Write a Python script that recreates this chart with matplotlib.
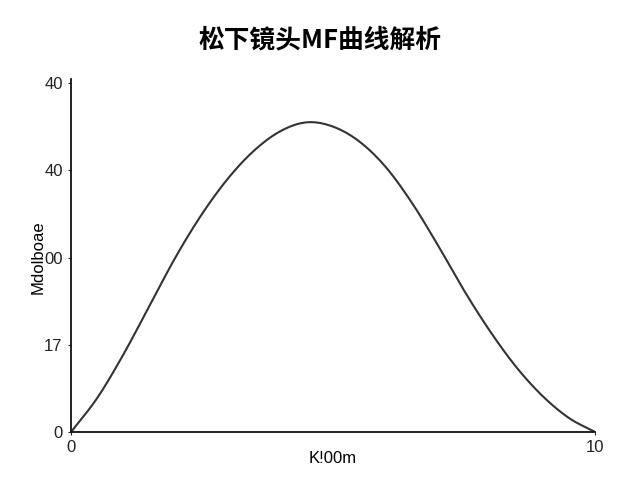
import matplotlib
matplotlib.use("Agg")
import matplotlib.pyplot as plt
import numpy as np

plt.rcParams['font.family'] = ['Liberation Sans', 'Noto Sans CJK SC', 'DejaVu Sans']

# curve
x_vals = [0, 0.5, 1.0, 1.5, 2.0, 2.5, 3.0, 3.5, 4.0, 4.5, 5.0, 5.5, 6.0,
          6.5, 7.0, 7.5, 8.0, 8.5, 9.0, 9.5, 10]
y_vals = [0, 3.9, 8.9, 14.5, 20.1, 25.0, 29.1, 32.3, 34.5, 35.5, 35.0, 33.3, 30.4,
          26.3, 21.4, 16.2, 11.5, 7.4, 4.1, 1.6, 0]

y_ticks = [0, 10, 20, 30, 40]
y_tick_labels = ["0", "17", "00", "40", "40"]
x_ticks = [0, 10]
x_tick_labels = ["0", "10"]

title = "松下镜头MF曲线解析"
x_label = "K!00m"
y_label = "Mdolboae"


def smooth(xs, ys, steps=20):
    """Catmull-Rom through the read points so the line looks like the picture"""
    xs = np.asarray(xs, float)
    ys = np.asarray(ys, float)
    px = np.concatenate([[2 * xs[0] - xs[1]], xs, [2 * xs[-1] - xs[-2]]])
    py = np.concatenate([[2 * ys[0] - ys[1]], ys, [2 * ys[-1] - ys[-2]]])
    out_x, out_y = [], []
    t = np.linspace(0, 1, steps, endpoint=False)
    for i in range(1, len(px) - 2):
        for arr, out in ((px, out_x), (py, out_y)):
            p0, p1, p2, p3 = arr[i - 1], arr[i], arr[i + 1], arr[i + 2]
            out.extend(0.5 * ((2 * p1) + (-p0 + p2) * t
                              + (2 * p0 - 5 * p1 + 4 * p2 - p3) * t ** 2
                              + (-p0 + 3 * p1 - 3 * p2 + p3) * t ** 3))
    out_x.append(xs[-1])
    out_y.append(ys[-1])
    return out_x, out_y


fig = plt.figure(figsize=(6.4, 4.8), dpi=100)
ax = fig.add_axes([0.111, 0.1, 0.819, 0.727])

sx, sy = smooth(x_vals, y_vals)
ax.plot(sx, sy, color="#333333", linewidth=1.5)

ax.set_xlim(0, 10)
ax.set_ylim(0, 40)
ax.set_yticks(y_ticks)
ax.set_yticklabels(y_tick_labels)
ax.set_xticks(x_ticks)
ax.set_xticklabels(x_tick_labels)
ax.tick_params(length=2, labelsize=12, colors="#222222", pad=4)

for side in ("top", "right"):
    ax.spines[side].set_visible(False)
for side in ("left", "bottom"):
    ax.spines[side].set_linewidth(1.3)
    ax.spines[side].set_color("#111111")
    ax.spines[side].set_clip_on(False)
ax.spines["left"].set_bounds(0, 40.5)

ax.set_xlabel(x_label, fontsize=12, labelpad=-3)
ax.set_ylabel(y_label, fontsize=12, labelpad=-1)

fig.suptitle(title, fontsize=18.5, fontweight="bold",
             family=['Noto Sans CJK SC', 'DejaVu Sans'], y=0.945)

fig.savefig("out.png", dpi=100, facecolor="white")
